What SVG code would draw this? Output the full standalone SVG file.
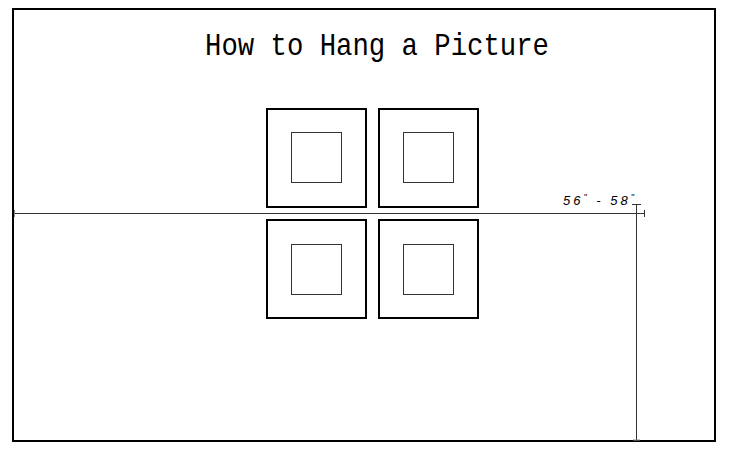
<svg xmlns="http://www.w3.org/2000/svg" width="735" height="458" viewBox="0 0 735 458">
<style>
.frame{fill:#fff;stroke:#000;stroke-width:2}
.mat{fill:#fff;stroke:#333;stroke-width:1}
.dim{stroke:#333;stroke-width:1;fill:none}
.tick{stroke:#888;stroke-width:1;fill:none}
.title{font-family:"Liberation Mono",monospace;font-size:32px;fill:#000}
.lbl{font-family:"Liberation Sans",sans-serif;font-style:italic;font-size:13px;letter-spacing:3px;fill:#000}
</style>
<rect x="0" y="0" width="735" height="458" fill="#fff"/>
<g id="wall"><rect x="13" y="9" width="702" height="432" fill="#fff" stroke="#000" stroke-width="2"/></g>
<text id="title" class="title" x="205" y="55" textLength="344" lengthAdjust="spacingAndGlyphs">How to Hang a Picture</text>
<g id="frame-tl"><rect class="frame" x="267" y="109" width="99" height="98"/><rect class="mat" x="291.5" y="132.5" width="50" height="50"/></g>
<g id="frame-tr"><rect class="frame" x="379" y="109" width="99" height="98"/><rect class="mat" x="403.5" y="132.5" width="50" height="50"/></g>
<g id="frame-bl"><rect class="frame" x="267" y="220" width="99" height="98"/><rect class="mat" x="291.5" y="244.5" width="50" height="50"/></g>
<g id="frame-br"><rect class="frame" x="379" y="220" width="99" height="98"/><rect class="mat" x="403.5" y="244.5" width="50" height="50"/></g>
<g id="connectors">
<line class="dim" x1="14" y1="213.5" x2="645" y2="213.5"/>
<line class="tick" x1="14.5" y1="210" x2="14.5" y2="217"/>
<line class="dim" x1="644.5" y1="210" x2="644.5" y2="217"/>
<line class="dim" x1="636.5" y1="204" x2="636.5" y2="441"/>
<line class="dim" x1="632" y1="204.5" x2="641" y2="204.5"/>
<line class="tick" x1="633" y1="440" x2="640" y2="440"/>
</g>
<text id="dim-label" class="lbl" x="563" y="205">56<tspan dy="-5" font-size="9">"</tspan><tspan dy="5"> - 58</tspan><tspan dy="-5" font-size="9">"</tspan></text>
</svg>
